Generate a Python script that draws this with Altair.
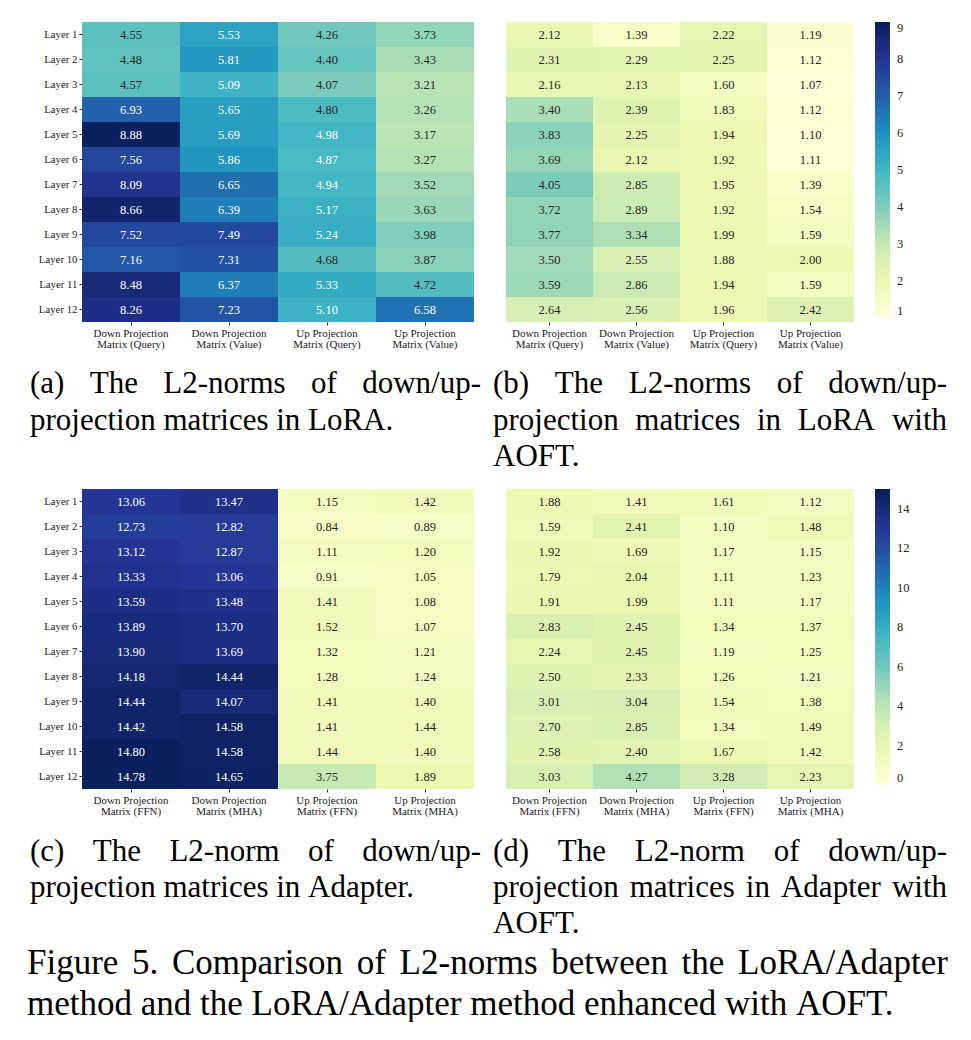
import altair as alt
import pandas as pd

SERIF = "Liberation Serif"

layers = [f"Layer {i}" for i in range(1, 13)]
cols_lora = ["Down Projection|Matrix (Query)", "Down Projection|Matrix (Value)",
             "Up Projection|Matrix (Query)", "Up Projection|Matrix (Value)"]
cols_adapter = ["Down Projection|Matrix (FFN)", "Down Projection|Matrix (MHA)",
                "Up Projection|Matrix (FFN)", "Up Projection|Matrix (MHA)"]

lora = [
    [4.55, 5.53, 4.26, 3.73], [4.48, 5.81, 4.40, 3.43], [4.57, 5.09, 4.07, 3.21],
    [6.93, 5.65, 4.80, 3.26], [8.88, 5.69, 4.98, 3.17], [7.56, 5.86, 4.87, 3.27],
    [8.09, 6.65, 4.94, 3.52], [8.66, 6.39, 5.17, 3.63], [7.52, 7.49, 5.24, 3.98],
    [7.16, 7.31, 4.68, 3.87], [8.48, 6.37, 5.33, 4.72], [8.26, 7.23, 5.10, 6.58],
]
lora_aoft = [
    [2.12, 1.39, 2.22, 1.19], [2.31, 2.29, 2.25, 1.12], [2.16, 2.13, 1.60, 1.07],
    [3.40, 2.39, 1.83, 1.12], [3.83, 2.25, 1.94, 1.10], [3.69, 2.12, 1.92, 1.11],
    [4.05, 2.85, 1.95, 1.39], [3.72, 2.89, 1.92, 1.54], [3.77, 3.34, 1.99, 1.59],
    [3.50, 2.55, 1.88, 2.00], [3.59, 2.86, 1.94, 1.59], [2.64, 2.56, 1.96, 2.42],
]
adapter = [
    [13.06, 13.47, 1.15, 1.42], [12.73, 12.82, 0.84, 0.89], [13.12, 12.87, 1.11, 1.20],
    [13.33, 13.06, 0.91, 1.05], [13.59, 13.48, 1.41, 1.08], [13.89, 13.70, 1.52, 1.07],
    [13.90, 13.69, 1.32, 1.21], [14.18, 14.44, 1.28, 1.24], [14.44, 14.07, 1.41, 1.40],
    [14.42, 14.58, 1.41, 1.44], [14.80, 14.58, 1.44, 1.40], [14.78, 14.65, 3.75, 1.89],
]
adapter_aoft = [
    [1.88, 1.41, 1.61, 1.12], [1.59, 2.41, 1.10, 1.48], [1.92, 1.69, 1.17, 1.15],
    [1.79, 2.04, 1.11, 1.23], [1.91, 1.99, 1.11, 1.17], [2.83, 2.45, 1.34, 1.37],
    [2.24, 2.45, 1.19, 1.25], [2.50, 2.33, 1.26, 1.21], [3.01, 3.04, 1.54, 1.38],
    [2.70, 2.85, 1.34, 1.49], [2.58, 2.40, 1.67, 1.42], [3.03, 4.27, 3.28, 2.23],
]

top_domain = [1, 9]
top_ticks = [1, 2, 3, 4, 5, 6, 7, 8, 9]
bot_domain = [0, 15]
bot_ticks = [0, 2, 4, 6, 8, 10, 12, 14]

# ColorBrewer YlGnBu (as in matplotlib / seaborn)
ylgnbu = ["#ffffd9", "#edf8b1", "#c7e9b4", "#7fcdbb", "#41b6c4",
          "#1d91c0", "#225ea8", "#253494", "#081d58"]

cap_a = ["(a) The L2-norms of down/up-", "projection matrices in LoRA."]
cap_b = ["(b) The L2-norms of down/up-", "projection matrices in LoRA with", "AOFT."]
cap_c = ["(c) The L2-norm of down/up-", "projection matrices in Adapter."]
cap_d = ["(d) The L2-norm of down/up-", "projection matrices in Adapter with", "AOFT."]
cap_fig = ["Figure 5.  Comparison of L2-norms between the LoRA/Adapter",
           "method and the LoRA/Adapter method enhanced with AOFT."]

# Times-compatible advance widths (per 1000 em) for justification
W = {" ": 250, "(": 333, ")": 333, ",": 250, "-": 333, ".": 250, "/": 278, ":": 278}
W.update({d: 500 for d in "0123456789"})
W.update(dict(zip("ABCDEFGHIJKLMNOPQRSTUVWXYZ",
                  [722, 667, 667, 722, 611, 556, 722, 722, 333, 389, 722, 611, 889,
                   722, 722, 556, 722, 667, 556, 611, 722, 722, 944, 722, 722, 611])))
W.update(dict(zip("abcdefghijklmnopqrstuvwxyz",
                  [444, 500, 444, 500, 444, 333, 500, 500, 278, 278, 500, 278, 778,
                   500, 500, 500, 500, 333, 389, 278, 500, 500, 722, 500, 500, 444])))

ORIGIN_X = 82  # page x of the view origin inside the vertical stack


def tw(s, size):
    return sum(W.get(c, 500) for c in s) * size / 1000.0


def caption_rows(lines, left, right, baselines, size, y0):
    rows = []
    for k, line in enumerate(lines):
        words = line.split()
        last = k == len(lines) - 1
        widths = [tw(w, size) for w in words]
        if last or len(words) == 1:
            gap = tw(" ", size)
        else:
            gap = (right - left - sum(widths)) / (len(words) - 1)
        x = left
        for w, wd in zip(words, widths):
            rows.append({"w": w, "x": x - ORIGIN_X, "y": baselines[k] - y0, "s": size})
            x += wd + gap
    return rows


def caption_view(rows, width, height):
    df = pd.DataFrame(rows)
    return alt.Chart(df).mark_text(align="left", baseline="alphabetic", font=SERIF,
                                   color="black").encode(
        x=alt.X("x:Q", scale=None, axis=None),
        y=alt.Y("y:Q", scale=None, axis=None),
        text="w:N",
        size=alt.Size("s:Q", scale=None, legend=None),
    ).properties(width=width, height=height)


def heat(values, cols, domain, width, height, show_y, legend_vals):
    df = pd.DataFrame([{"layer": layers[i], "col": cols[j], "v": values[i][j]}
                       for i in range(12) for j in range(4)])
    lo, hi = domain
    stops = [lo + (hi - lo) * k / (len(ylgnbu) - 1) for k in range(len(ylgnbu))]
    thr = lo + 0.48 * (hi - lo)
    x = alt.X("col:N", sort=cols, title=None,
              scale=alt.Scale(paddingInner=0, paddingOuter=0),
              axis=alt.Axis(labelExpr="split(datum.value, '|')", labelAngle=0,
                            labelFont=SERIF, labelFontSize=11, labelColor="#222",
                            labelLineHeight=11, labelPadding=2, tickSize=3,
                            tickColor="#333", domain=False,
                            minExtent=30, maxExtent=30))
    if show_y:
        yaxis = alt.Axis(labelFont=SERIF, labelFontSize=10.8, labelColor="#222",
                         labelPadding=2, tickSize=3, tickColor="#333", domain=False,
                         minExtent=74, maxExtent=74)
    else:
        yaxis = None
    y = alt.Y("layer:N", sort=layers, title=None,
              scale=alt.Scale(paddingInner=0, paddingOuter=0), axis=yaxis)
    if legend_vals:
        legend = alt.Legend(title=None, values=legend_vals, gradientLength=height - 4,
                            gradientThickness=15, offset=21, labelFont=SERIF,
                            labelFontSize=12.5, labelColor="#222", labelOffset=7,
                            gradientStrokeWidth=0, padding=0, labelBaseline="middle")
    else:
        legend = None
    rect = alt.Chart(df).mark_rect().encode(
        x=x, y=y,
        color=alt.Color("v:Q", legend=legend,
                        scale=alt.Scale(domain=stops, range=ylgnbu, interpolate="rgb",
                                        clamp=True)))
    text = alt.Chart(df).mark_text(font=SERIF, fontSize=12.5).encode(
        x=x, y=y,
        text=alt.Text("v:Q", format=".2f"),
        color=alt.condition(alt.datum.v > thr, alt.value("white"), alt.value("#262626")))
    return alt.layer(rect, text).properties(width=width, height=height)


H = 300
row1 = alt.hconcat(
    heat(lora, cols_lora, top_domain, 392, H, True, None),
    heat(lora_aoft, cols_lora, top_domain, 348, H, False, top_ticks),
    spacing=32).resolve_scale(color="independent")
row2 = alt.hconcat(
    heat(adapter, cols_adapter, bot_domain, 392, H, True, None),
    heat(adapter_aoft, cols_adapter, bot_domain, 348, H, False, bot_ticks),
    spacing=32).resolve_scale(color="independent")

SUB = 31
FIG = 35
row1_top = 22
cap1_top = row1_top + H + 30
row2_top = 489
cap2_top = row2_top + H + 30
cap1_rows = (caption_rows(cap_a, 30, 481, [393, 430], SUB, cap1_top)
             + caption_rows(cap_b, 493, 947, [393, 430, 466], SUB, cap1_top))
cap2_rows = (caption_rows(cap_c, 30, 481, [861, 897], SUB, cap2_top)
             + caption_rows(cap_d, 493, 947, [861, 897, 933], SUB, cap2_top)
             + caption_rows(cap_fig, 27, 948, [974, 1015], FIG, cap2_top))

chart = alt.vconcat(
    row1,
    caption_view(cap1_rows, 820, row2_top - cap1_top),
    row2,
    caption_view(cap2_rows, 820, 1022 - cap2_top),
    spacing=0,
).resolve_scale(color="independent").properties(
    padding={"left": 0, "top": row1_top - 8, "right": 0, "bottom": 0},
    background="white",
).configure_view(stroke=None)

chart.save("out.html", embed_options={"renderer": "svg", "actions": False})
